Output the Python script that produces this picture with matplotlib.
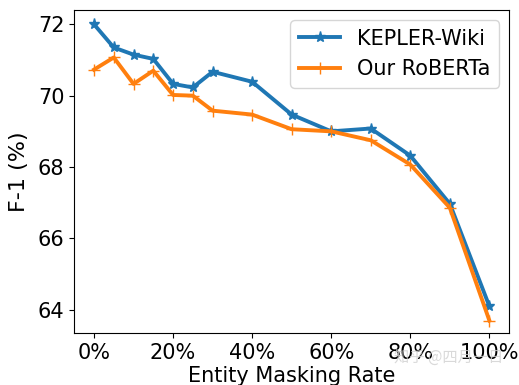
import matplotlib.pyplot as plt

rates = [0, 5, 10, 15, 20, 25, 30, 40, 50, 60, 70, 80, 90, 100]
kepler_wiki = [72.0, 71.35, 71.15, 71.03, 70.33, 70.23, 70.67, 70.39, 69.47, 69.0, 69.08, 68.32, 66.97, 64.1]
our_roberta = [70.73, 71.07, 70.33, 70.7, 70.02, 70.0, 69.58, 69.47, 69.06, 69.0, 68.75, 68.07, 66.86, 63.7]
xticks = [0, 20, 40, 60, 80, 100]

fig, ax = plt.subplots(figsize=(5.19, 3.85), dpi=100)

ax.plot(rates, kepler_wiki, marker='*', markersize=8, linewidth=2.8, color='#1f77b4', label='KEPLER-Wiki')
ax.plot(rates, our_roberta, marker='+', markersize=8, linewidth=2.8, color='#ff7f0e', label='Our RoBERTa')

ax.set_xticks(xticks)
ax.set_xticklabels([f'{t}%' for t in xticks])
ax.set_yticks([64, 66, 68, 70, 72])
ax.set_ylim(63.35, 72.4)
ax.set_xlim(-5, 105)
ax.tick_params(labelsize=15)

ax.set_xlabel('Entity Masking Rate', fontsize=15, labelpad=2)
ax.set_ylabel('F-1 (%)', fontsize=16, labelpad=6)
ax.legend(fontsize=15, loc='upper right')

# watermark
fig.text(0.865, 0.06, '知乎 @四月一日', fontsize=11, color='#d0d0d0', alpha=0.8,
         family=['Noto Sans CJK SC', 'DejaVu Sans'], ha='center')

fig.subplots_adjust(left=0.143, right=0.981, bottom=0.135, top=0.974)
fig.savefig('out.png')
